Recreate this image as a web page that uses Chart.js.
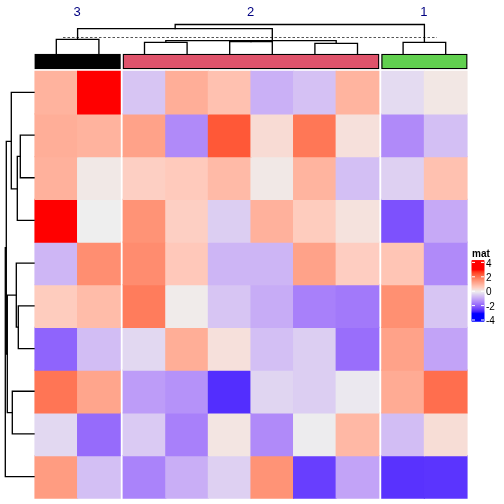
<!DOCTYPE html>
<html>
<head>
<meta charset="utf-8">
<script src="https://cdn.jsdelivr.net/npm/chart.js@4/dist/chart.umd.min.js"></script>
<style>
  html, body { margin: 0; padding: 0; background: #fff; }
  canvas { display: block; }
</style>
</head>
<body>
<canvas id="myChart" width="504" height="504"></canvas>
<script>
// heatmap values, one list per row (left to right)
const row0 = [1.02, 3.0, -0.57, 1.1, 0.78, -0.87, -0.63, 1.0, -0.27, 0.12];
const row1 = [1.1, 1.02, 1.3, -1.4, 2.4, 0.33, 1.98, 0.24, -1.4, -0.66];
const row2 = [1.05, 0.1, 0.54, 0.63, 0.9, 0.1, 1.0, -0.66, -0.42, 0.78];
const row3 = [3.0, 0.0, 1.55, 0.54, -0.45, 1.05, 0.6, 0.21, -2.2, -0.96];
const row4 = [-0.78, 1.62, 1.65, 0.66, -0.8, -0.8, 1.3, 0.57, 0.72, -1.4];
const row5 = [0.6, 0.87, 1.9, 0.05, -0.57, -0.93, -1.55, -1.65, 1.6, -0.57];
const row6 = [-1.95, -0.69, -0.3, 1.11, 0.24, -0.66, -0.45, -1.8, 1.3, -1.05];
const row7 = [2.0, 1.25, -1.15, -1.3, -2.65, -0.35, -0.45, -0.08, 1.15, 2.1];
const row8 = [-0.3, -1.85, -0.5, -1.55, 0.15, -1.4, -0.03, 0.93, -0.69, 0.3];
const row9 = [1.4, -0.66, -1.5, -0.9, -0.42, 1.55, -2.45, -1.05, -2.6, -2.58];
const rows = [row0, row1, row2, row3, row4, row5, row6, row7, row8, row9];

const groupLabels = ["3", "2", "1"];
const groupSizes = [2, 6, 2];
const groupColors = ["#000000", "#DF536B", "#61D04F"];
const legendTicks = [4, 2, 0, -2, -4];

// top tree: left leaf, right leaf, height, low end left, low end right
const colLeft = [0, 2, 4, 6, 8, 2.5, 4.5, 0.5, 2.72];
const colRight = [1, 3, 5, 7, 9, 6.5, 4.5, 5, 8.5];
const colHeight = [14.7, 11.7, 12.3, 10.7, 11.7, 13.3, 13.3, 25.3, 29.5];
const colLowLeft = [0, 0, 0, 0, 0, 11.7, 12.3, 14.7, 25.3];
const colLowRight = [0, 0, 0, 0, 0, 10.7, 12.3, 12.3, 11.7];
const colCut = 16.5;

// left tree: top row, bottom row, depth, low end top, low end bottom
const rowTop = [1, 1.5, 0, 7, 5, 4, 4.75, 1.15, 3.64];
const rowBottom = [2, 3, 2.26, 8, 6, 5.5, 7.5, 6.13, 9];
const rowDepth = [13.7, 16.7, 22.7, 21.7, 15.7, 17.7, 26.7, 27.7, 28.7];
const rowLowTop = [0, 13.7, 0, 0, 0, 0, 17.7, 22.7, 27.7];
const rowLowBottom = [0, 0, 16.7, 0, 0, 15.7, 21.7, 26.7, 0];

const pxX = 42.6;
const pxY = 42.7;
const left = 35;
const top_ = 71;
const gap = 3 / pxX;

// lab interpolation, same way the colour ramp of the original works
function toLab(rgb) {
  const lin = rgb.map((c) => {
    c = c / 255;
    return c > 0.04045 ? Math.pow((c + 0.055) / 1.055, 2.4) : c / 12.92;
  });
  const X = (0.4124 * lin[0] + 0.3576 * lin[1] + 0.1805 * lin[2]) / 0.95047;
  const Y = 0.2126 * lin[0] + 0.7152 * lin[1] + 0.0722 * lin[2];
  const Z = (0.0193 * lin[0] + 0.1192 * lin[1] + 0.9505 * lin[2]) / 1.08883;
  const f = (t) => (t > 0.008856 ? Math.cbrt(t) : 7.787 * t + 16 / 116);
  return [116 * f(Y) - 16, 500 * (f(X) - f(Y)), 200 * (f(Y) - f(Z))];
}
function fromLab(lab) {
  const fy = (lab[0] + 16) / 116;
  const fx = lab[1] / 500 + fy;
  const fz = fy - lab[2] / 200;
  const g = (t) => (t * t * t > 0.008856 ? t * t * t : (t - 16 / 116) / 7.787);
  const X = g(fx) * 0.95047, Y = g(fy), Z = g(fz) * 1.08883;
  const lin = [
    3.2406 * X - 1.5372 * Y - 0.4986 * Z,
    -0.9689 * X + 1.8758 * Y + 0.0415 * Z,
    0.0557 * X - 0.204 * Y + 1.057 * Z,
  ];
  const c = lin.map((v) => {
    v = v <= 0.0031308 ? 12.92 * v : 1.055 * Math.pow(Math.max(v, 0), 1 / 2.4) - 0.055;
    return Math.round(Math.min(1, Math.max(0, v)) * 255);
  });
  return `rgb(${c[0]},${c[1]},${c[2]})`;
}
const labMid = toLab([238, 238, 238]);
const labRed = toLab([255, 0, 0]);
const labBlue = toLab([0, 0, 255]);
function colorFor(v) {
  const t = Math.min(1, Math.abs(v) / 3);
  if (t === 1) return v > 0 ? "rgb(255,0,0)" : "rgb(0,0,255)";
  const end = v > 0 ? labRed : labBlue;
  return fromLab(labMid.map((m, i) => m + (end[i] - m) * t));
}

function colCenter(i) {
  let g = 0;
  let n = 0;
  for (let k = 0; k < groupSizes.length; k++) {
    n += groupSizes[k];
    if (i >= n) g++;
  }
  return i + 0.5 + g * gap;
}
function colX(p) {
  const i = Math.floor(p);
  return colCenter(i) + (colCenter(i + 1) - colCenter(i)) * (p - i);
}
const colHeightY = (h) => -(17 + h) / pxY;
const rowDepthX = (d) => -(1 + d) / pxX;

const treeStyle = {
  type: "scatter",
  showLine: true,
  pointRadius: 0,
  borderColor: "#000000",
  borderWidth: 1.33,
  tension: 0,
  fill: false,
  borderCapStyle: "square",
};

const datasets = [];

// dendrograms
colLeft.forEach((l, i) => {
  datasets.push({
    ...treeStyle,
    data: [
      { x: colX(l), y: colHeightY(colLowLeft[i]) },
      { x: colX(l), y: colHeightY(colHeight[i]) },
      { x: colX(colRight[i]), y: colHeightY(colHeight[i]) },
      { x: colX(colRight[i]), y: colHeightY(colLowRight[i]) },
    ],
  });
});
rowTop.forEach((t, i) => {
  datasets.push({
    ...treeStyle,
    data: [
      { x: rowDepthX(rowLowTop[i]), y: t + 0.5 },
      { x: rowDepthX(rowDepth[i]), y: t + 0.5 },
      { x: rowDepthX(rowDepth[i]), y: rowBottom[i] + 0.5 },
      { x: rowDepthX(rowLowBottom[i]), y: rowBottom[i] + 0.5 },
    ],
  });
});
datasets.push({
  ...treeStyle,
  borderColor: "#555555",
  borderWidth: 1,
  borderDash: [2.5, 2],
  borderCapStyle: "butt",
  data: [
    { x: (63 - left) / pxX, y: colHeightY(colCut) },
    { x: (437 - left) / pxX, y: colHeightY(colCut) },
  ],
});

// heatmap cells, a bit of overlap so no white seams show between them
rows.forEach((values, r) => {
  datasets.push({
    type: "bar",
    grouped: false,
    barThickness: pxX + 0.5,
    borderWidth: 0,
    data: values.map((v, c) => ({ x: colCenter(c), y: [r, r + 1 + 0.5 / pxY] })),
    backgroundColor: values.map((v) => colorFor(v)),
  });
});

// group annotation bars
let start = 0;
const groupCenters = [];
groupSizes.forEach((n, g) => {
  const mid = start + n / 2 + g * gap;
  groupCenters.push(mid);
  datasets.push({
    type: "bar",
    grouped: false,
    barThickness: n * pxX + 0.6,
    borderWidth: 1.33,
    borderColor: "#000000",
    borderSkipped: false,
    backgroundColor: groupColors[g],
    data: [{ x: mid, y: [-17 / pxY, -2 / pxY] }],
  });
  start += n;
});

// colour bar, on its own value axis
const legendSteps = [];
for (let i = 0; i < 64; i++) legendSteps.push(-4.2 + (i * 8.45) / 64);
datasets.push({
  type: "bar",
  grouped: false,
  yAxisID: "yLegend",
  barThickness: 12,
  borderWidth: 0,
  data: legendSteps.map((v) => ({ x: (478 - left) / pxX, y: [v, v + 0.16] })),
  backgroundColor: legendSteps.map((v) => colorFor(v + 0.07)),
});

const textPlugin = {
  id: "heatmapText",
  afterDraw(chart) {
    const ctx = chart.ctx;
    const x = chart.scales.x;
    const yL = chart.scales.yLegend;
    ctx.save();
    ctx.textBaseline = "middle";
    ctx.textAlign = "center";
    ctx.font = "13px 'Liberation Sans'";
    ctx.fillStyle = "#000080";
    groupLabels.forEach((t, g) => {
      ctx.fillText(t, x.getPixelForValue(groupCenters[g]) - 0.5, 12);
    });
    ctx.textAlign = "left";
    ctx.fillStyle = "#000000";
    ctx.font = "bold 10px 'Liberation Sans'";
    ctx.fillText("mat", 472, 254);
    ctx.font = "10px 'Liberation Sans'";
    legendTicks.forEach((t) => {
      const py = yL.getPixelForValue(t);
      ctx.fillStyle = "#000000";
      ctx.fillText(String(t), 486, py + 1.5);
      ctx.fillStyle = "#ffffff";
      ctx.fillRect(472, py - 0.5, 3, 1);
      ctx.fillRect(481, py - 0.5, 3, 1);
    });
    ctx.restore();
  },
};

new Chart(document.getElementById("myChart").getContext("2d"), {
  data: { datasets: datasets },
  plugins: [textPlugin],
  options: {
    responsive: false,
    animation: false,
    layout: { padding: 0 },
    plugins: { legend: { display: false }, tooltip: { enabled: false } },
    scales: {
      x: { type: "linear", display: false, offset: false, min: -left / pxX, max: (504 - left) / pxX },
      y: { type: "linear", display: false, reverse: true, min: -top_ / pxY, max: (504 - top_) / pxY },
      yLegend: {
        type: "linear",
        display: false,
        min: -4 - (504 - 320) / 7.2,
        max: 4 + 262.4 / 7.2,
      },
    },
  },
});
</script>
</body>
</html>
